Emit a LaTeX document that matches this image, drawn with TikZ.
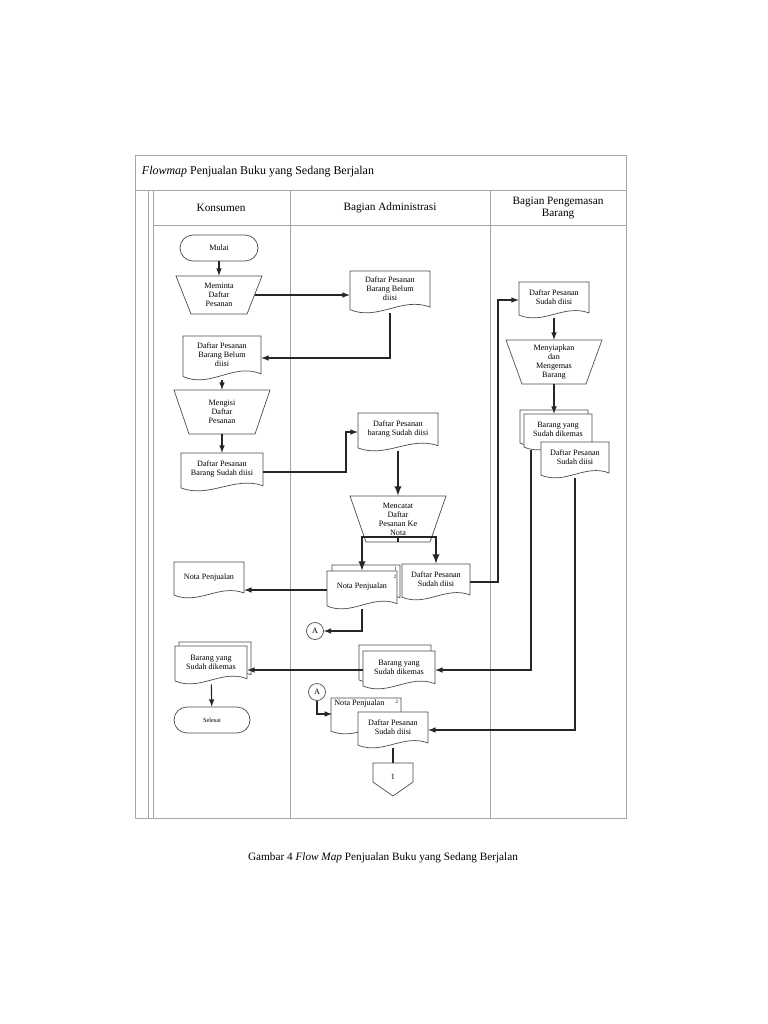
\documentclass[tikz,border=0pt]{standalone}
\usepackage{fontspec}
\setmainfont{Liberation Serif}
\usetikzlibrary{calc}
\tikzset{
    lane/.style={draw=gray!70, line width=0.5pt},
    shp/.style={draw=gray!60!black, fill=white, line width=0.5pt},
    lbl/.style={font=\fontsize{5.8}{6.4}\selectfont, align=center, inner sep=0pt},
    flow/.style={draw=gray!30!black, line width=0.8pt, -latex},
    thick flow/.style={draw=gray!30!black, line width=1.3pt, -latex},
}
% document symbol: name, centre, width, height, text
\newcommand{\docnode}[5]{%
    \begin{scope}[shift={(#2)}]
        \draw[shp] (-#3/2,-#4/2) -- (#3/2,-#4/2) -- (#3/2,0.36*#4)
            .. controls (0.15*#3,0.1*#4) and (-0.15*#3,0.7*#4) .. (-#3/2,0.42*#4) -- cycle;
        \node[lbl, minimum width=0.025cm*#3, minimum height=0.025cm*#4] (#1) at (0,0) {};
        \node[lbl] at (0,-0.08*#4) {#5};
    \end{scope}}
% stacked copy behind a document
\newcommand{\docback}[4]{%
    \begin{scope}[shift={(#1)}]
        \draw[shp] (-#2/2,-#3/2) -- (#2/2,-#3/2) -- (#2/2,0.36*#3)
            .. controls (0.15*#2,0.1*#3) and (-0.15*#2,0.7*#3) .. (-#2/2,0.42*#3) -- cycle;
        \node[lbl] at (0.44*#2,-0.5*#3+4) {\fontsize{3.5}{4}\selectfont #4};
    \end{scope}}
% manual operation: name, centre, top width, bottom width, height, text
\newcommand{\manop}[6]{%
    \begin{scope}[shift={(#2)}]
        \draw[shp] (-#3/2,-#5/2) -- (#3/2,-#5/2) -- (#4/2,#5/2) -- (-#4/2,#5/2) -- cycle;
        \node[lbl, minimum width=0.0125cm*#3+0.0125cm*#4, minimum height=0.025cm*#5] (#1) at (0,0) {#6};
    \end{scope}}
\begin{document}
\begin{tikzpicture}[x=0.025cm, y=-0.025cm]
    \useasboundingbox[fill=white] (0,0) rectangle (768,1024);

    % frame and lanes
    \draw[lane] (135,155) rectangle (626,818);
    \draw[lane] (135,190) -- (626,190);
    \draw[lane] (153,225) -- (626,225);
    \draw[lane] (148,190) -- (148,818);
    \draw[lane] (153,190) -- (153,818);
    \draw[lane] (290,190) -- (290,818);
    \draw[lane] (490,190) -- (490,818);
    \node[anchor=west, font=\fontsize{8.5}{9.5}\selectfont] (title) at (137,172) {\textit{Flowmap} Penjualan Buku yang Sedang Berjalan};
    \node[font=\fontsize{8}{9}\selectfont] (hkons) at (221,208) {Konsumen};
    \node[font=\fontsize{8}{9}\selectfont] (hadm) at (390,208) {Bagian Administrasi};
    \node[font=\fontsize{8}{9}\selectfont, align=center] (hpak) at (558,208) {Bagian Pengemasan\\[-1pt]Barang};

    % Konsumen
    \node[shp, lbl, rounded corners=13*0.025cm, minimum width=78*0.025cm, minimum height=26*0.025cm] (mulai) at (219,248) {Mulai};
    \manop{minta}{219,295}{86}{56}{38}{Meminta\\Daftar\\Pesanan}
    \docnode{kbelum}{222,358}{78}{44}{Daftar Pesanan\\Barang Belum\\diisi}
    \manop{isi}{222,412}{96}{66}{44}{Mengisi\\Daftar\\Pesanan}
    \docnode{ksudah}{222,472}{82}{38}{Daftar Pesanan\\Barang Sudah diisi}
    \docnode{knota}{209,580}{70}{36}{Nota Penjualan}
    \docback{215,661}{72}{38}{}
    \docnode{kbarang}{211,665}{72}{38}{Barang yang\\Sudah dikemas}
    \node[shp, lbl, rounded corners=13*0.025cm, minimum width=76*0.025cm, minimum height=26*0.025cm] (selesai) at (212,720) {\fontsize{4.5}{5}\selectfont Selesai};

    % Bagian Administrasi
    \docnode{abelum}{390,292}{80}{42}{Daftar Pesanan\\Barang Belum\\diisi}
    \docnode{asudah}{398,432}{80}{38}{Daftar Pesanan\\barang Sudah diisi}
    \manop{catat}{398,519}{96}{64}{46}{Mencatat\\Daftar\\Pesanan Ke\\Nota}
    \docback{366,584}{68}{38}{1}
    \docnode{anota}{362,590}{70}{38}{Nota Penjualan}
    \node[lbl] at (395,577) {\fontsize{3.5}{4}\selectfont 2};
    \docnode{adaftar}{436,582}{68}{36}{Daftar Pesanan\\Sudah diisi}
    \node[shp, lbl, circle, minimum size=17*0.025cm] (a1) at (315,631) {A};
    \docback{395,664}{72}{38}{}
    \docnode{abarang}{399,670}{72}{38}{Barang yang\\Sudah dikemas}
    \node[shp, lbl, circle, minimum size=17*0.025cm] (a2) at (317,692) {A};
    \docback{366,716}{70}{36}{2}
    \node[lbl, anchor=west] (anota2) at (334,704) {Nota Penjualan};
    \coordinate (nin) at (332,714);
    \docnode{afinal}{393,730}{70}{36}{Daftar Pesanan\\Sudah diisi}
    \draw[shp] (373,763) -- (413,763) -- (413,782) -- (393,796) -- (373,782) -- cycle;
    \node[lbl] (off) at (393,777) {1};
    \coordinate (offtop) at (393,763);

    % Bagian Pengemasan Barang
    \docnode{psudah}{554,300}{70}{36}{Daftar Pesanan\\Sudah diisi}
    \manop{siap}{554,362}{96}{64}{44}{Menyiapkan\\dan\\Mengemas\\Barang}
    \docback{554,428}{68}{36}{}
    \docnode{pbarang}{558,432}{68}{36}{Barang yang\\Sudah dikemas}
    \docnode{pdaftar}{575,460}{68}{36}{Daftar Pesanan\\Sudah diisi}
    \coordinate (pbout) at (531,450);

    % connectors
    \draw[flow] (mulai) -- (minta);
    \draw[flow] (minta.east) -- (abelum.west |- minta.east);
    \draw[flow] (abelum.south) |- (kbelum.east);
    \draw[flow] (kbelum) -- (isi);
    \draw[flow] (isi) -- (ksudah);
    \draw[flow] (ksudah.east) -| (346,432) -- (asudah.west);
    \draw[thick flow] (asudah) -- (catat);
    \draw[thick flow] (catat.south) -- (398,537) -| (anota.north);
    \draw[thick flow] (398,537) -| (adaftar.north);
    \draw[flow] (anota.west) -- (knota.east |- anota.west);
    \draw[flow] (anota.south) |- (a1.east);
    \draw[flow] (adaftar.east) -| (498,300) -- (psudah.west);
    \draw[flow] (psudah) -- (siap);
    \draw[flow] (siap.south) -- (siap.south |- pbarang.north);
    \draw[flow] (pbout) |- (abarang.east);
    \draw[flow] (pdaftar.south) |- (afinal.east);
    \draw[flow] (abarang.west) -- (kbarang.east |- abarang.west);
    \draw[flow] (kbarang) -- (selesai);
    \draw[flow] (a2.south) |- (nin);
    \draw[draw=gray!30!black, line width=0.8pt] (afinal.south) -- (offtop);

    \node[font=\fontsize{8}{9}\selectfont] (caption) at (383,858) {Gambar 4 \textit{Flow Map} Penjualan Buku yang Sedang Berjalan};
\end{tikzpicture}
\end{document}
